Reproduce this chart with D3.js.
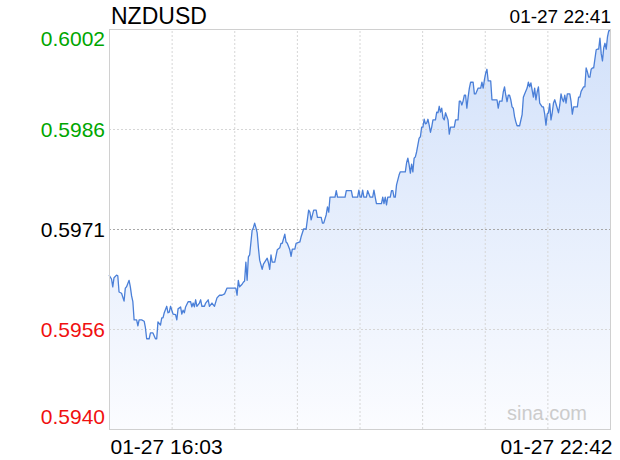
<!DOCTYPE html>
<html>
<head>
<meta charset="utf-8">
<script src="https://cdn.jsdelivr.net/npm/d3@7"></script>
<style>
  body { margin: 0; background: #fff; }
  svg { display: block; font-family: "Liberation Sans", Arial, sans-serif; }
</style>
</head>
<body>
<div id="chart"></div>
<script>
// NZDUSD intraday, minutes after 16:03 and price
var symbol = "NZDUSD";
var lastTime = "01-27 22:41";
var xLabels = ["01-27 16:03", "01-27 22:42"];
var prevClose = 0.5971;
var yTicks = [0.59402, 0.59556, 0.5971, 0.59864, 0.60018];

var mins = [0,2,3,4,6,7,8,10,12,13,14,16,17,18,19,20,22,23,24,26,28,29,30,32,33,35,37,38,39,41,
  42,43,44,46,47,48,49,51,53,54,55,57,58,59,60,61,63,65,66,67,68,69,70,72,73,74,76,77,79,80,
  82,84,86,88,90,92,94,96,99,101,102,103,104,106,107,108,109,110,111,112,114,115,116,117,118,119,120,122,123,124,
  126,127,128,129,130,132,134,136,137,138,140,141,142,144,145,146,148,149,152,153,155,157,159,160,161,163,165,166,169,170,
  171,173,174,175,176,180,181,182,188,189,193,194,198,199,200,201,202,203,205,206,208,210,211,212,213,217,218,219,220,221,
  222,224,225,226,227,228,229,231,232,236,237,238,239,240,241,242,243,244,245,247,248,249,250,251,252,253,254,255,256,257,
  258,260,261,262,263,264,265,266,267,268,270,271,272,275,276,278,279,280,281,282,283,284,285,286,287,288,290,291,292,294,
  296,297,298,299,300,301,302,304,305,309,310,311,313,314,315,316,317,318,319,320,321,322,323,324,325,327,329,330,331,333,
  334,335,336,337,338,339,340,341,342,343,345,346,347,348,349,350,351,352,353,354,355,357,358,359,360,361,362,363,364,365,
  367,368,369,370,373,374,375,376,378,379,380,381,382,383,384,385,386,388,389,390,391,392,393,394,395,396,397,398,399];

var prices = [0.59639,0.59633,0.59621,0.59635,0.59639,0.59638,0.59613,0.59611,0.59599,0.59619,0.59621,0.59631,0.59621,0.59607,0.59598,0.59570,0.59570,0.59561,0.59570,0.59570,0.59568,0.59558,0.59541,0.59541,0.59550,0.59550,0.59541,0.59541,0.59567,0.59562,
  0.59573,0.59573,0.59581,0.59591,0.59581,0.59582,0.59591,0.59579,0.59578,0.59570,0.59587,0.59590,0.59579,0.59585,0.59581,0.59590,0.59598,0.59598,0.59590,0.59596,0.59590,0.59601,0.59591,0.59596,0.59601,0.59591,0.59591,0.59596,0.59601,0.59591,
  0.59596,0.59591,0.59604,0.59608,0.59608,0.59610,0.59619,0.59619,0.59619,0.59619,0.59608,0.59631,0.59621,0.59625,0.59628,0.59630,0.59659,0.59631,0.59667,0.59670,0.59708,0.59712,0.59719,0.59712,0.59704,0.59681,0.59662,0.59648,0.59656,0.59659,
  0.59665,0.59658,0.59648,0.59670,0.59659,0.59659,0.59678,0.59681,0.59688,0.59688,0.59702,0.59690,0.59688,0.59678,0.59668,0.59679,0.59679,0.59688,0.59690,0.59698,0.59710,0.59710,0.59739,0.59736,0.59724,0.59739,0.59739,0.59728,0.59728,0.59719,
  0.59719,0.59732,0.59744,0.59736,0.59759,0.59759,0.59769,0.59759,0.59759,0.59769,0.59769,0.59759,0.59759,0.59770,0.59759,0.59759,0.59770,0.59759,0.59759,0.59769,0.59759,0.59759,0.59770,0.59759,0.59749,0.59749,0.59759,0.59749,0.59759,0.59747,
  0.59759,0.59759,0.59769,0.59769,0.59759,0.59759,0.59778,0.59793,0.59798,0.59798,0.59812,0.59819,0.59809,0.59796,0.59810,0.59798,0.59819,0.59821,0.59829,0.59850,0.59852,0.59867,0.59867,0.59879,0.59872,0.59873,0.59879,0.59870,0.59859,0.59867,
  0.59878,0.59878,0.59890,0.59889,0.59899,0.59890,0.59896,0.59881,0.59878,0.59889,0.59878,0.59856,0.59867,0.59867,0.59878,0.59878,0.59907,0.59907,0.59901,0.59907,0.59916,0.59916,0.59896,0.59913,0.59927,0.59936,0.59936,0.59918,0.59918,0.59927,
  0.59927,0.59936,0.59927,0.59940,0.59950,0.59956,0.59938,0.59938,0.59909,0.59909,0.59896,0.59907,0.59907,0.59921,0.59929,0.59916,0.59906,0.59916,0.59916,0.59909,0.59898,0.59896,0.59883,0.59875,0.59869,0.59869,0.59886,0.59913,0.59918,0.59927,
  0.59936,0.59929,0.59935,0.59924,0.59913,0.59927,0.59909,0.59921,0.59929,0.59904,0.59898,0.59898,0.59887,0.59870,0.59887,0.59889,0.59903,0.59878,0.59889,0.59904,0.59909,0.59896,0.59889,0.59901,0.59918,0.59910,0.59906,0.59916,0.59904,0.59918,
  0.59918,0.59906,0.59887,0.59898,0.59898,0.59913,0.59913,0.59922,0.59929,0.59929,0.59958,0.59952,0.59944,0.59944,0.59956,0.59958,0.59958,0.59986,0.59987,0.59987,0.60004,0.59980,0.59969,0.59989,0.59996,0.59987,0.60006,0.60015,0.60016];

var data = mins.map(function(m, i) { return {t: m, v: prices[i]}; });

// set the dimensions and margins of the graph
var margin = {top: 29, right: 10, bottom: 31, left: 109},
    width = 620 - margin.left - margin.right,
    height = 460 - margin.top - margin.bottom;

var x = d3.scaleLinear().domain([0, 399]).range([0, width]);
var y = d3.scaleLinear().domain([yTicks[0], yTicks[4]]).range([height, 0]);

var svg = d3.select("#chart").append("svg")
    .attr("width", 620)
    .attr("height", 460);

var defs = svg.append("defs");
var grad = defs.append("linearGradient")
    .attr("id", "fill")
    .attr("x1", 0).attr("y1", 0).attr("x2", 0).attr("y2", 1);
grad.append("stop").attr("offset", "0%").attr("stop-color", "#d2e1fa");
grad.append("stop").attr("offset", "100%").attr("stop-color", "#fbfcff");

var g = svg.append("g")
    .attr("transform", "translate(" + margin.left + "," + margin.top + ")");

// area under the line
var area = d3.area()
    .x(function(d) { return x(d.t); })
    .y0(height)
    .y1(function(d) { return y(d.v); });

g.append("path")
    .datum(data)
    .attr("d", area)
    .attr("fill", "url(#fill)");

// vertical grid
var xGrid = g.append("g")
    .attr("transform", "translate(0," + height + ")")
    .call(d3.axisBottom(x)
      .tickValues(d3.range(1, 8).map(function(i) { return i * 399 / 8; }))
      .tickSize(-height)
      .tickFormat(""));
xGrid.select(".domain").remove();
xGrid.selectAll("line")
    .attr("stroke", "#d6d6d6")
    .attr("stroke-dasharray", "2,2");

// horizontal grid
var yGrid = g.append("g")
    .call(d3.axisLeft(y)
      .tickValues(yTicks.slice(1, 4))
      .tickSize(-width)
      .tickFormat(""));
yGrid.select(".domain").remove();
yGrid.selectAll("line")
    .attr("stroke", function(d) { return d === prevClose ? "#a8a8a8" : "#d6d6d6"; })
    .attr("stroke-dasharray", "2,2");

// price line
var line = d3.line()
    .x(function(d) { return x(d.t); })
    .y(function(d) { return y(d.v); });

g.append("path")
    .datum(data)
    .attr("d", line)
    .attr("fill", "none")
    .attr("stroke", "#4a7fd8")
    .attr("stroke-width", 1.3)
    .attr("stroke-linejoin", "round");

// frame
g.append("rect")
    .attr("x", 0.5).attr("y", 0.5)
    .attr("width", width).attr("height", height)
    .attr("fill", "none")
    .attr("stroke", "#d0d0d0");

// y labels
var yAxis = g.append("g")
    .call(d3.axisLeft(y)
      .tickValues(yTicks)
      .tickSize(0)
      .tickPadding(4)
      .tickFormat(d3.format(".4f")));
yAxis.select(".domain").remove();
yAxis.selectAll("text")
    .attr("font-family", null)
    .style("font-size", "21px")
    .attr("fill", function(d) {
      if (d > prevClose) return "#00a600";
      if (d < prevClose) return "#f01010";
      return "#000";
    })
    .attr("dy", function(d, i) {
      if (i === 0) return "-0.25em";
      if (i === yTicks.length - 1) return "0.8em";
      return "0.35em";
    });

// x labels
var xAxis = g.append("g")
    .attr("transform", "translate(0," + height + ")")
    .call(d3.axisBottom(x)
      .tickValues([0, 399])
      .tickSize(0)
      .tickPadding(10)
      .tickFormat(function(d, i) { return xLabels[i]; }));
xAxis.select(".domain").remove();
xAxis.selectAll("text")
    .attr("font-family", null)
    .style("font-size", "21px")
    .attr("fill", "#000")
    .attr("text-anchor", function(d, i) { return i === 0 ? "start" : "end"; })
    .attr("dx", function(d, i) { return i === 0 ? "1" : "2"; });

// title and last time
svg.append("text")
    .attr("x", 111).attr("y", 24)
    .style("font-size", "23px")
    .text(symbol);

svg.append("text")
    .attr("x", 611).attr("y", 23)
    .attr("text-anchor", "end")
    .style("font-size", "19px")
    .text(lastTime);

// watermark
svg.append("text")
    .attr("x", 587).attr("y", 420)
    .attr("text-anchor", "end")
    .attr("fill", "#cccccc")
    .style("font-size", "20px")
    .text("sina.com");
</script>
</body>
</html>
